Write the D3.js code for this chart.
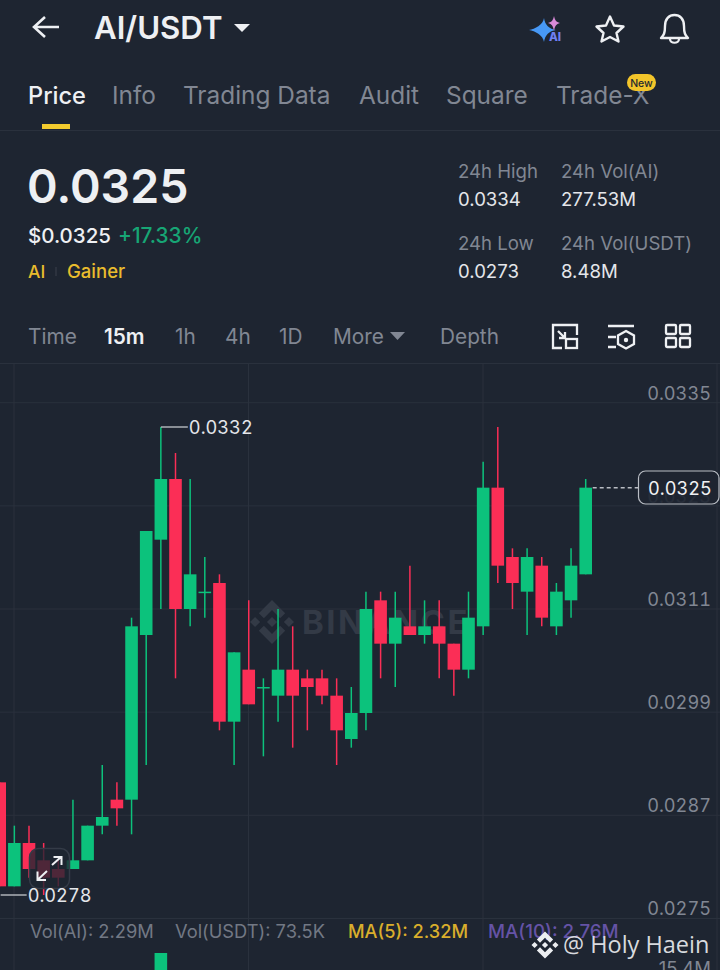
<!DOCTYPE html>
<html>
<head>
<meta charset="utf-8">
<style>
html,body{margin:0;padding:0;background:#1e2531;overflow:hidden}
svg{display:block}
text{font-family:Inter,"Noto Sans",sans-serif}
text.num{font-variant-numeric:tabular-nums}
</style>
<script src="https://cdn.jsdelivr.net/npm/d3@7"></script>
</head>
<body>
<div id="w"></div>
<script>
// candles, oldest first (prices move in 0.0001 steps)
var opens  = [.0291,.0279,.0284,.0282,.0281,.0281,.0282,.0286,.0289,.0289,.0308,.0319,.0326,.0311,.0313,.0314,.0298,.0304,.0302,.0301,.0304,.0303,.0303,.0301,.0296,.0299,.0312,.0307,.0309,.0308,.0309,.0307,.0304,.0309,.0325,.0317,.0313,.0316,.0309,.0312,.0315]
var closes = [.0279,.0284,.0281,.0280,.0280,.0282,.0286,.0287,.0288,.0309,.0320,.0326,.0311,.0315,.0313,.0298,.0306,.0300,.0302,.0304,.0301,.0302,.0301,.0297,.0299,.0311,.0307,.0310,.0308,.0309,.0307,.0304,.0310,.0325,.0316,.0314,.0317,.0310,.0313,.0316,.0325]
var highs  = [.0291,.0286,.0286,.0284,.0282,.0289,.0286,.0293,.0291,.0310,.0320,.0332,.0329,.0326,.0317,.0315,.0306,.0312,.0303,.0311,.0309,.0304,.0304,.0303,.0302,.0313,.0313,.0313,.0316,.0312,.0312,.0307,.0313,.0328,.0332,.0318,.0318,.0317,.0314,.0318,.0326]
var lows   = [.0279,.0279,.0280,.0278,.0279,.0281,.0282,.0285,.0286,.0285,.0293,.0311,.0303,.0309,.0310,.0297,.0293,.0300,.0294,.0298,.0295,.0297,.0300,.0293,.0295,.0297,.0303,.0302,.0308,.0307,.0303,.0301,.0303,.0308,.0314,.0311,.0308,.0309,.0308,.0310,.0315]

// y axis labels, the app rounds them to 4 places so the real levels sit a bit off
var priceTicks = [.03348,.03229,.03110,.02991,.02872,.02753]
var lastPrice = .0325
var maxPrice = .0332
var minPrice = .0278

// only one volume bar reaches into the picture
var volIndex = [11]
var volValues = [15.4]

var tabs = ["Price","Info","Trading Data","Audit","Square","Trade-X"]
var tabX = [28,112,183,359,446,556]
var periods = ["Time","15m","1h","4h","1D","More","Depth"]
var periodX = [28,104,175,225,279,333,440]

var bg = "#1e2531", green = "#0cc27c", red = "#fb2e56", grid = "#2a313d"
var grey = "#818793", yellow = "#e9bc2d"

var W = 720, H = 970
var svg = d3.select("#w").append("svg").attr("width",W).attr("height",H)
svg.append("rect").attr("width",W).attr("height",H).attr("fill",bg)

function txt(x,y,s,size,color,weight,anchor){
  return svg.append("text").attr("x",x).attr("y",y).text(s)
    .attr("font-size",size).attr("fill",color)
    .attr("font-weight",weight||400).attr("text-anchor",anchor||"start")
}

// header
svg.append("path").attr("d","M59 27H35M45 17L34 27L45 37").attr("fill","none").attr("stroke","#eef0f3").attr("stroke-width",2.6)
txt(94,39,"AI/USDT",31.2,"#eef0f3",600)
svg.append("path").attr("d","M234 24H250L242 32Z").attr("fill","#eef0f3")

// sparkle + AI
var sp = d3.scaleLinear().domain([0,1]).range(["#3f9df5","#8f6cf0"])
svg.append("path").attr("d","M544 18C545 25 549 29 556 30C549 31 545 35 544 42C543 35 535 31 529 30C535 29 543 25 544 18Z").attr("fill",sp(0.1))
svg.append("path").attr("d","M554 16C555 20 556 22 560 23C556 24 555 26 554 31C553 26 552 24 548 23C552 22 553 20 554 16Z").attr("fill","#d98ad8")
txt(549,41,"AI",11.5,sp(.6),800)
// star
svg.append("path").attr("d","M610 16.5L614 25.5L623.5 26.5L616.5 33L618.5 41.5L610 37L601.5 41.5L603.5 33L596.5 26.5L606 25.5Z").attr("fill","none").attr("stroke","#eef0f3").attr("stroke-width",2.4).attr("stroke-linejoin","round")
// bell
svg.append("path").attr("d","M661 38C664 35 665 33 665 26C665 19 669 15 674.5 15C680 15 684 19 684 26C684 33 685 35 688 38Z").attr("fill","none").attr("stroke","#eef0f3").attr("stroke-width",2.4).attr("stroke-linejoin","round")
svg.append("path").attr("d","M670 39C670 44 679 44 679 39").attr("fill","none").attr("stroke","#eef0f3").attr("stroke-width",2.2)

// tabs
tabs.forEach(function(t,i){
  txt(tabX[i],104,t,i==0?23.6:24.4,i==0?"#eef0f3":grey,i==0?500:400)
})
svg.append("rect").attr("x",42).attr("y",124).attr("width",28).attr("height",5).attr("fill","#f3cb2e")
svg.append("line").attr("x1",0).attr("x2",W).attr("y1",130.5).attr("y2",130.5).attr("stroke",grid)
svg.append("rect").attr("x",627).attr("y",74).attr("width",29).attr("height",17).attr("rx",8.5).attr("fill","#f3c52a")
txt(641.5,87,"New",10.5,"#262a30",500,"middle")

// price block
txt(27,203,"0.0325",46.5,"#eef0f3",600)
txt(28,243,"$0.0325",20.5,"#eef0f3",500)
txt(118,243,"+17.33%",20.8,"#17a675",500)
txt(28,278,"AI",17.5,yellow,500)
svg.append("line").attr("x1",56).attr("x2",56).attr("y1",267).attr("y2",276).attr("stroke","#3a414d")
txt(67,278,"Gainer",18.5,yellow,500)

txt(458,178,"24h High",18.6,grey)
txt(458,206,"0.0334",18.6,"#e4e6ea")
txt(561,178,"24h Vol(AI)",18.6,grey)
txt(561,206,"277.53M",18.6,"#e4e6ea")
txt(458,250,"24h Low",18.6,grey)
txt(458,278,"0.0273",18.6,"#e4e6ea")
txt(561,250,"24h Vol(USDT)",18.6,grey)
txt(561,278,"8.48M",18.6,"#e4e6ea")

// period bar
periods.forEach(function(t,i){
  txt(periodX[i],344,t,20.8,i==1?"#eef0f3":grey,i==1?600:400)
})
svg.append("path").attr("d","M390 332H405L397.5 340Z").attr("fill",grey)

var iconStroke = {"fill":"none","stroke":"#eef0f3","stroke-width":2.3}
function ic(d){ var p=svg.append("path").attr("d",d); for(var k in iconStroke) p.attr(k,iconStroke[k]); return p }
ic("M562 348H553V325H577V335")
ic("M558 331L564.5 337.5M565 332V338H559")
svg.append("rect").attr("x",566).attr("y",339).attr("width",11).attr("height",9).attr("fill",bg).attr("stroke","#eef0f3").attr("stroke-width",2.3)
ic("M608 326H634M608 337H616M608 347H616")
ic("M626 331L634 335.5V344L626 348.5L618 344V335.5Z")
svg.append("circle").attr("cx",626).attr("cy",340).attr("r",2.2).attr("fill","#eef0f3")
;[666,680].forEach(function(x){ [325,338].forEach(function(y){
  svg.append("rect").attr("x",x).attr("y",y).attr("width",10).attr("height",9).attr("rx",1).attr("fill","none").attr("stroke","#eef0f3").attr("stroke-width",2.3)
})})

// chart
var x = d3.scaleLinear().domain([0,opens.length-1]).range([-0.3,585.7])
var y = d3.scaleLinear().domain([.0275,.0335]).range([921,401])
var barW = 12.6

var g = svg.append("g")
g.append("line").attr("x1",0).attr("x2",W).attr("y1",363.5).attr("y2",363.5).attr("stroke",grid)
priceTicks.forEach(function(p){
  g.append("line").attr("x1",0).attr("x2",W).attr("y1",y(p)).attr("y2",y(p)).attr("stroke",grid)
})
;[14,248.5,483,717].forEach(function(v){
  g.append("line").attr("x1",v).attr("x2",v).attr("y1",364).attr("y2",H).attr("stroke",grid)
})

// faint BINANCE mark behind the candles
function logo(cx,cy,r,color){
  var c = [[0,-1],[.6,-.4],[.37,-.17],[0,-.54],[-.37,-.17],[-.6,-.4]]
  var d = function(mx,my,s){ return "M"+(mx)+","+(my-s)+"L"+(mx+s)+","+my+"L"+mx+","+(my+s)+"L"+(mx-s)+","+my+"Z" }
  var top = "M"+c.join("L")+"Z"
  var bot = "M"+c.map(function(q){return [q[0],-q[1]]}).join("L")+"Z"
  svg.append("path").attr("transform","translate("+cx+","+cy+") scale("+r+")")
    .attr("d",top+bot+d(0,0,.23)+d(-.77,0,.23)+d(.77,0,.23)).attr("fill",color)
}
logo(272,622,22,"#333a46")
txt(302,634,"BINANCE",33,"#333a46",700).attr("letter-spacing",2.5)

var ci = d3.range(opens.length)
function col(i){ return closes[i]>=opens[i] ? green : red }
g = svg.append("g")
g.selectAll(".wick").data(ci).enter().append("line")
  .attr("x1",function(i){return x(i)}).attr("x2",function(i){return x(i)})
  .attr("y1",function(i){return y(highs[i])}).attr("y2",function(i){return y(lows[i])})
  .attr("stroke",col).attr("stroke-width",1.5)
g.selectAll(".body").data(ci).enter().append("rect")
  .attr("x",function(i){return x(i)-barW/2}).attr("width",barW)
  .attr("y",function(i){return y(Math.max(opens[i],closes[i]))})
  .attr("height",function(i){return Math.max(1.5,Math.abs(y(opens[i])-y(closes[i])))})
  .attr("fill",col)

// volume pane, the scale runs far below the fold
var vy = d3.scaleLinear().domain([0,15.4]).range([1120,953])
g.selectAll(".vol").data(volIndex).enter().append("rect")
  .attr("x",function(i){return x(i)-barW/2}).attr("width",barW)
  .attr("y",function(i,k){return vy(volValues[k])})
  .attr("height",function(i,k){return vy(0)-vy(volValues[k])})
  .attr("fill",col)

// y labels
priceTicks.forEach(function(p){
  txt(711,y(p)-3,p.toFixed(4),18.2,grey,400,"end").attr("class","num")
})
txt(711,975,"15.4M",18.5,grey,400,"end")

// high/low markers
var hx = x(highs.indexOf(maxPrice))
svg.append("line").attr("x1",hx).attr("x2",hx+27).attr("y1",y(maxPrice)).attr("y2",y(maxPrice)).attr("stroke","#c4c7cc").attr("stroke-width",1.3)
txt(hx+28,y(maxPrice)+7,maxPrice.toFixed(4),18.2,"#e4e6ea").attr("class","num")

// expand button sits over the candles
svg.append("rect").attr("x",29.5).attr("y",848.5).attr("width",40).attr("height",40).attr("rx",9)
  .attr("fill",bg).attr("fill-opacity",.78).attr("stroke","#343b47").attr("stroke-width",1.5)
svg.append("path").attr("d","M52 865L61 857M53.5 857H61.5V865M47 871L38 879.5M37.5 871.5V880H46")
  .attr("fill","none").attr("stroke","#eef0f3").attr("stroke-width",2)

var lx = x(lows.indexOf(minPrice))
svg.append("line").attr("x1",lx-43).attr("x2",lx-17).attr("y1",y(minPrice)).attr("y2",y(minPrice)).attr("stroke","#c4c7cc").attr("stroke-width",1.3)
txt(lx-16,y(minPrice)+7,minPrice.toFixed(4),18.2,"#e4e6ea").attr("class","num")

// last price tag
var ly = y(lastPrice)
svg.append("line").attr("x1",x(opens.length-1)+7).attr("x2",638).attr("y1",ly).attr("y2",ly)
  .attr("stroke","#b9bdc4").attr("stroke-width",1.5).attr("stroke-dasharray","4,3")
svg.append("rect").attr("x",638.5).attr("y",471).attr("width",80.5).attr("height",33).attr("rx",7)
  .attr("fill",bg).attr("fill-opacity",.9).attr("stroke","#b9bdc4").attr("stroke-width",1.2)
txt(648,ly+7,lastPrice.toFixed(4),18.2,"#f0f1f3").attr("class","num")

// volume legend
svg.append("line").attr("x1",0).attr("x2",W).attr("y1",918.5).attr("y2",918.5).attr("stroke",grid)
txt(30,938,"Vol(AI): 2.29M",18.3,"#727884")
txt(175,938,"Vol(USDT): 73.5K",18.3,"#727884")
txt(348,938,"MA(5): 2.32M",18.2,"#d9ae2c",500)
txt(488,938,"MA(10): 2.76M",18.7,"#6553a6",500)

// uploader watermark
logo(545,945,13.5,"#eceef1")
txt(563,953,"@ Holy Haein",23.5,"#d8dade").style("font-family","'Open Sans'")
</script>
</body>
</html>
